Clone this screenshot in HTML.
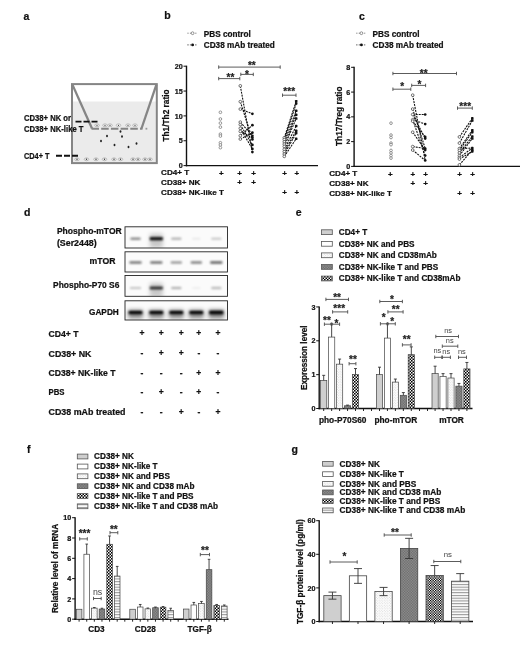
<!DOCTYPE html>
<html><head><meta charset="utf-8"><title>figure</title>
<style>html,body{margin:0;padding:0;background:#fff}svg{display:block;filter:blur(0.35px)}text{font-family:"Liberation Sans",Arial,sans-serif}</style>
</head><body>
<svg width="520" height="647" viewBox="0 0 520 647">
<rect width="520" height="647" fill="#fff"/>
<defs>
<pattern id="pdots" width="2.6" height="2.6" patternUnits="userSpaceOnUse"><rect width="2.6" height="2.6" fill="#fff"/><rect x="0.3" y="0.3" width="0.7" height="0.7" fill="#b4b4b4"/><rect x="1.6" y="1.6" width="0.7" height="0.7" fill="#b4b4b4"/></pattern>
<pattern id="pdense" width="1.6" height="1.6" patternUnits="userSpaceOnUse"><rect width="1.6" height="1.6" fill="#959595"/><rect width="0.8" height="0.8" fill="#666"/><rect x="0.8" y="0.8" width="0.8" height="0.8" fill="#666"/></pattern>
<pattern id="pcheck" width="6.0" height="6.0" patternUnits="userSpaceOnUse"><rect width="6.0" height="6.0" fill="#fff"/><rect x="0.000" y="0.000" width="1.550" height="1.550" fill="#000"/><rect x="0.000" y="3.000" width="1.550" height="1.550" fill="#000"/><rect x="1.500" y="1.500" width="1.550" height="1.550" fill="#000"/><rect x="1.500" y="4.500" width="1.550" height="1.550" fill="#000"/><rect x="3.000" y="0.000" width="1.550" height="1.550" fill="#000"/><rect x="3.000" y="3.000" width="1.550" height="1.550" fill="#000"/><rect x="4.500" y="1.500" width="1.550" height="1.550" fill="#000"/><rect x="4.500" y="4.500" width="1.550" height="1.550" fill="#000"/></pattern>
<pattern id="pcheckg" width="5.0" height="5.0" patternUnits="userSpaceOnUse"><rect width="5.0" height="5.0" fill="#fff"/><rect x="0.000" y="0.000" width="1.300" height="1.300" fill="#000"/><rect x="0.000" y="2.500" width="1.300" height="1.300" fill="#000"/><rect x="1.250" y="1.250" width="1.300" height="1.300" fill="#000"/><rect x="1.250" y="3.750" width="1.300" height="1.300" fill="#000"/><rect x="2.500" y="0.000" width="1.300" height="1.300" fill="#000"/><rect x="2.500" y="2.500" width="1.300" height="1.300" fill="#000"/><rect x="3.750" y="1.250" width="1.300" height="1.300" fill="#000"/><rect x="3.750" y="3.750" width="1.300" height="1.300" fill="#000"/></pattern>
<pattern id="phoriz" width="3" height="2.75" patternUnits="userSpaceOnUse"><rect width="3" height="2.75" fill="#fff"/><rect y="1.2" width="3" height="0.75" fill="#666"/></pattern>
<filter id="b1" x="-50%" y="-200%" width="200%" height="500%"><feGaussianBlur stdDeviation="1.2 0.8"/></filter>
<filter id="b2" x="-50%" y="-200%" width="200%" height="500%"><feGaussianBlur stdDeviation="1.0 0.9"/></filter>
<filter id="b3" x="-50%" y="-200%" width="200%" height="500%"><feGaussianBlur stdDeviation="2 2.2"/></filter>
<filter id="soft"><feGaussianBlur stdDeviation="0.35"/></filter>
</defs>
<text x="23.40" y="20.30" font-size="10.5" font-weight="bold" text-anchor="start" fill="#111" stroke="#111" stroke-width="0.22" >a</text>
<text x="164.30" y="19.00" font-size="10.5" font-weight="bold" text-anchor="start" fill="#111" stroke="#111" stroke-width="0.22" >b</text>
<text x="359.00" y="20.30" font-size="10.5" font-weight="bold" text-anchor="start" fill="#111" stroke="#111" stroke-width="0.22" >c</text>
<text x="24.00" y="216.00" font-size="10.5" font-weight="bold" text-anchor="start" fill="#111" stroke="#111" stroke-width="0.22" >d</text>
<text x="295.80" y="216.40" font-size="10.5" font-weight="bold" text-anchor="start" fill="#111" stroke="#111" stroke-width="0.22" >e</text>
<text x="27.00" y="452.80" font-size="10.5" font-weight="bold" text-anchor="start" fill="#111" stroke="#111" stroke-width="0.22" >f</text>
<text x="291.50" y="452.50" font-size="10.5" font-weight="bold" text-anchor="start" fill="#111" stroke="#111" stroke-width="0.22" >g</text>
<rect x="72.00" y="101.50" width="84.80" height="61.60" fill="#ebebeb" stroke="none" stroke-width="1" />
<polyline points="72.3,84.39999999999999 92,128.5" fill="none" stroke="#858585" stroke-width="2.3"/>
<polyline points="156.5,84.39999999999999 141.5,128.5" fill="none" stroke="#858585" stroke-width="2.3"/>
<line x1="91.50" y1="128.80" x2="142.50" y2="128.80" stroke="#858585" stroke-width="2.1" stroke-dasharray="7.5 2.2"/>
<rect x="145.50" y="127.80" width="1.80" height="1.80" fill="#999" stroke="none" stroke-width="1" />
<rect x="72.00" y="84.10" width="84.80" height="79.00" fill="none" stroke="#858585" stroke-width="2" />
<ellipse cx="97" cy="125.3" rx="2.3" ry="1.4" fill="#f6f6f6" stroke="#888" stroke-width="0.5"/>
<circle cx="97.00" cy="125.30" r="0.6" fill="#333" stroke="none" stroke-width="1"/>
<ellipse cx="105" cy="125.3" rx="2.3" ry="1.4" fill="#f6f6f6" stroke="#888" stroke-width="0.5"/>
<circle cx="105.00" cy="125.30" r="0.6" fill="#333" stroke="none" stroke-width="1"/>
<ellipse cx="110" cy="125.3" rx="2.3" ry="1.4" fill="#f6f6f6" stroke="#888" stroke-width="0.5"/>
<circle cx="110.00" cy="125.30" r="0.6" fill="#333" stroke="none" stroke-width="1"/>
<ellipse cx="118.5" cy="125.3" rx="2.3" ry="1.4" fill="#f6f6f6" stroke="#888" stroke-width="0.5"/>
<circle cx="118.50" cy="125.30" r="0.6" fill="#333" stroke="none" stroke-width="1"/>
<ellipse cx="128" cy="125.3" rx="2.3" ry="1.4" fill="#f6f6f6" stroke="#888" stroke-width="0.5"/>
<circle cx="128.00" cy="125.30" r="0.6" fill="#333" stroke="none" stroke-width="1"/>
<ellipse cx="135" cy="125.3" rx="2.3" ry="1.4" fill="#f6f6f6" stroke="#888" stroke-width="0.5"/>
<circle cx="135.00" cy="125.30" r="0.6" fill="#333" stroke="none" stroke-width="1"/>
<ellipse cx="77" cy="159.3" rx="2.3" ry="1.4" fill="#f6f6f6" stroke="#888" stroke-width="0.5"/>
<circle cx="77.00" cy="159.30" r="0.7" fill="#333" stroke="none" stroke-width="1"/>
<ellipse cx="86.5" cy="159.3" rx="2.3" ry="1.4" fill="#f6f6f6" stroke="#888" stroke-width="0.5"/>
<circle cx="86.50" cy="159.30" r="0.7" fill="#333" stroke="none" stroke-width="1"/>
<ellipse cx="96" cy="159.3" rx="2.3" ry="1.4" fill="#f6f6f6" stroke="#888" stroke-width="0.5"/>
<circle cx="96.00" cy="159.30" r="0.7" fill="#333" stroke="none" stroke-width="1"/>
<ellipse cx="104.5" cy="159.3" rx="2.3" ry="1.4" fill="#f6f6f6" stroke="#888" stroke-width="0.5"/>
<circle cx="104.50" cy="159.30" r="0.7" fill="#333" stroke="none" stroke-width="1"/>
<ellipse cx="114" cy="159.3" rx="2.3" ry="1.4" fill="#f6f6f6" stroke="#888" stroke-width="0.5"/>
<circle cx="114.00" cy="159.30" r="0.7" fill="#333" stroke="none" stroke-width="1"/>
<ellipse cx="120.5" cy="159.3" rx="2.3" ry="1.4" fill="#f6f6f6" stroke="#888" stroke-width="0.5"/>
<circle cx="120.50" cy="159.30" r="0.7" fill="#333" stroke="none" stroke-width="1"/>
<ellipse cx="133" cy="159.3" rx="2.3" ry="1.4" fill="#f6f6f6" stroke="#888" stroke-width="0.5"/>
<circle cx="133.00" cy="159.30" r="0.7" fill="#333" stroke="none" stroke-width="1"/>
<ellipse cx="138" cy="159.3" rx="2.3" ry="1.4" fill="#f6f6f6" stroke="#888" stroke-width="0.5"/>
<circle cx="138.00" cy="159.30" r="0.7" fill="#333" stroke="none" stroke-width="1"/>
<ellipse cx="145" cy="159.3" rx="2.3" ry="1.4" fill="#f6f6f6" stroke="#888" stroke-width="0.5"/>
<circle cx="145.00" cy="159.30" r="0.7" fill="#333" stroke="none" stroke-width="1"/>
<ellipse cx="150" cy="159.3" rx="2.3" ry="1.4" fill="#f6f6f6" stroke="#888" stroke-width="0.5"/>
<circle cx="150.00" cy="159.30" r="0.7" fill="#333" stroke="none" stroke-width="1"/>
<ellipse cx="107" cy="136" rx="0.95" ry="1.25" fill="#222"/>
<ellipse cx="101" cy="141" rx="0.95" ry="1.25" fill="#222"/>
<ellipse cx="114.5" cy="145" rx="0.95" ry="1.25" fill="#222"/>
<ellipse cx="120.5" cy="131.5" rx="0.95" ry="1.25" fill="#222"/>
<ellipse cx="122" cy="136.5" rx="0.95" ry="1.25" fill="#222"/>
<ellipse cx="128.5" cy="147" rx="0.95" ry="1.25" fill="#222"/>
<ellipse cx="136.5" cy="143.5" rx="0.95" ry="1.25" fill="#222"/>
<line x1="75.50" y1="121.60" x2="98.00" y2="121.60" stroke="#111" stroke-width="1.9" stroke-dasharray="6 2"/>
<line x1="56.00" y1="155.80" x2="79.00" y2="155.80" stroke="#111" stroke-width="1.9" stroke-dasharray="6 2"/>
<text x="24.00" y="120.50" font-size="8.3" font-weight="bold" text-anchor="start" fill="#111" textLength="47.00" lengthAdjust="spacingAndGlyphs" stroke="#111" stroke-width="0.22" >CD38+ NK or</text>
<text x="24.00" y="132.00" font-size="8.3" font-weight="bold" text-anchor="start" fill="#111" textLength="59.50" lengthAdjust="spacingAndGlyphs" stroke="#111" stroke-width="0.22" >CD38+ NK-like T</text>
<text x="24.00" y="159.00" font-size="8.3" font-weight="bold" text-anchor="start" fill="#111" textLength="25.50" lengthAdjust="spacingAndGlyphs" stroke="#111" stroke-width="0.22" >CD4+ T</text>
<line x1="186.50" y1="65.70" x2="186.50" y2="166.30" stroke="#111" stroke-width="1.4" />
<line x1="185.80" y1="165.60" x2="318.00" y2="165.60" stroke="#111" stroke-width="1.4" />
<line x1="183.50" y1="165.60" x2="186.50" y2="165.60" stroke="#111" stroke-width="1" />
<text x="182.70" y="168.20" font-size="7.2" font-weight="bold" text-anchor="end" fill="#111" stroke="#111" stroke-width="0.22" >0</text>
<line x1="183.50" y1="140.75" x2="186.50" y2="140.75" stroke="#111" stroke-width="1" />
<text x="182.70" y="143.35" font-size="7.2" font-weight="bold" text-anchor="end" fill="#111" stroke="#111" stroke-width="0.22" >5</text>
<line x1="183.50" y1="115.90" x2="186.50" y2="115.90" stroke="#111" stroke-width="1" />
<text x="182.70" y="118.50" font-size="7.2" font-weight="bold" text-anchor="end" fill="#111" stroke="#111" stroke-width="0.22" >10</text>
<line x1="183.50" y1="91.05" x2="186.50" y2="91.05" stroke="#111" stroke-width="1" />
<text x="182.70" y="93.65" font-size="7.2" font-weight="bold" text-anchor="end" fill="#111" stroke="#111" stroke-width="0.22" >15</text>
<line x1="183.50" y1="66.20" x2="186.50" y2="66.20" stroke="#111" stroke-width="1" />
<text x="182.70" y="68.80" font-size="7.2" font-weight="bold" text-anchor="end" fill="#111" stroke="#111" stroke-width="0.22" >20</text>
<text x="168.60" y="115.50" font-size="8.3" font-weight="bold" text-anchor="middle" fill="#111" transform="rotate(-90 168.60 115.50)" stroke="#111" stroke-width="0.22" >Th1/Th2 ratio</text>
<line x1="240.30" y1="85.84" x2="252.40" y2="152.07" stroke="#111" stroke-width="1.1" stroke-dasharray="2 1"/>
<line x1="240.30" y1="101.67" x2="252.40" y2="139.45" stroke="#111" stroke-width="1.1" stroke-dasharray="2 1"/>
<line x1="240.30" y1="109.09" x2="252.40" y2="113.80" stroke="#111" stroke-width="1.1" stroke-dasharray="2 1"/>
<line x1="240.30" y1="122.11" x2="252.40" y2="135.74" stroke="#111" stroke-width="1.1" stroke-dasharray="2 1"/>
<line x1="240.30" y1="124.62" x2="252.40" y2="144.96" stroke="#111" stroke-width="1.1" stroke-dasharray="2 1"/>
<line x1="240.30" y1="128.32" x2="252.40" y2="148.97" stroke="#111" stroke-width="1.1" stroke-dasharray="2 1"/>
<line x1="240.30" y1="131.43" x2="252.40" y2="137.54" stroke="#111" stroke-width="1.1" stroke-dasharray="2 1"/>
<line x1="240.30" y1="135.74" x2="252.40" y2="125.22" stroke="#111" stroke-width="1.1" stroke-dasharray="2 1"/>
<line x1="240.30" y1="139.05" x2="252.40" y2="132.63" stroke="#111" stroke-width="1.1" stroke-dasharray="2 1"/>
<line x1="284.30" y1="137.74" x2="296.20" y2="101.17" stroke="#111" stroke-width="1.1" stroke-dasharray="2 1"/>
<line x1="284.30" y1="139.55" x2="296.20" y2="103.47" stroke="#111" stroke-width="1.1" stroke-dasharray="2 1"/>
<line x1="284.30" y1="141.85" x2="296.20" y2="110.79" stroke="#111" stroke-width="1.1" stroke-dasharray="2 1"/>
<line x1="284.30" y1="144.16" x2="296.20" y2="114.80" stroke="#111" stroke-width="1.1" stroke-dasharray="2 1"/>
<line x1="284.30" y1="146.46" x2="296.20" y2="118.61" stroke="#111" stroke-width="1.1" stroke-dasharray="2 1"/>
<line x1="284.30" y1="149.37" x2="296.20" y2="126.12" stroke="#111" stroke-width="1.1" stroke-dasharray="2 1"/>
<line x1="284.30" y1="151.67" x2="296.20" y2="130.83" stroke="#111" stroke-width="1.1" stroke-dasharray="2 1"/>
<line x1="284.30" y1="154.08" x2="296.20" y2="133.13" stroke="#111" stroke-width="1.1" stroke-dasharray="2 1"/>
<line x1="284.30" y1="156.38" x2="296.20" y2="138.75" stroke="#111" stroke-width="1.1" stroke-dasharray="2 1"/>
<circle cx="220.40" cy="112.29" r="1.35" fill="#fff" stroke="#777" stroke-width="0.75"/>
<circle cx="220.40" cy="119.01" r="1.35" fill="#fff" stroke="#777" stroke-width="0.75"/>
<circle cx="220.40" cy="123.11" r="1.35" fill="#fff" stroke="#777" stroke-width="0.75"/>
<circle cx="220.40" cy="127.12" r="1.35" fill="#fff" stroke="#777" stroke-width="0.75"/>
<circle cx="220.40" cy="134.14" r="1.35" fill="#fff" stroke="#777" stroke-width="0.75"/>
<circle cx="220.40" cy="136.04" r="1.35" fill="#fff" stroke="#777" stroke-width="0.75"/>
<circle cx="220.40" cy="142.75" r="1.35" fill="#fff" stroke="#777" stroke-width="0.75"/>
<circle cx="220.40" cy="144.96" r="1.35" fill="#fff" stroke="#777" stroke-width="0.75"/>
<circle cx="220.40" cy="147.66" r="1.35" fill="#fff" stroke="#777" stroke-width="0.75"/>
<circle cx="240.30" cy="85.84" r="1.35" fill="#fff" stroke="#444" stroke-width="0.75"/>
<circle cx="240.30" cy="101.67" r="1.35" fill="#fff" stroke="#444" stroke-width="0.75"/>
<circle cx="240.30" cy="109.09" r="1.35" fill="#fff" stroke="#444" stroke-width="0.75"/>
<circle cx="240.30" cy="122.11" r="1.35" fill="#fff" stroke="#444" stroke-width="0.75"/>
<circle cx="240.30" cy="124.62" r="1.35" fill="#fff" stroke="#444" stroke-width="0.75"/>
<circle cx="240.30" cy="128.32" r="1.35" fill="#fff" stroke="#444" stroke-width="0.75"/>
<circle cx="240.30" cy="131.43" r="1.35" fill="#fff" stroke="#444" stroke-width="0.75"/>
<circle cx="240.30" cy="135.74" r="1.35" fill="#fff" stroke="#444" stroke-width="0.75"/>
<circle cx="240.30" cy="139.05" r="1.35" fill="#fff" stroke="#444" stroke-width="0.75"/>
<circle cx="252.40" cy="113.80" r="1.35" fill="#111" stroke="none" stroke-width="1"/>
<circle cx="252.40" cy="125.22" r="1.35" fill="#111" stroke="none" stroke-width="1"/>
<circle cx="252.40" cy="132.63" r="1.35" fill="#111" stroke="none" stroke-width="1"/>
<circle cx="252.40" cy="135.74" r="1.35" fill="#111" stroke="none" stroke-width="1"/>
<circle cx="252.40" cy="137.54" r="1.35" fill="#111" stroke="none" stroke-width="1"/>
<circle cx="252.40" cy="139.45" r="1.35" fill="#111" stroke="none" stroke-width="1"/>
<circle cx="252.40" cy="144.96" r="1.35" fill="#111" stroke="none" stroke-width="1"/>
<circle cx="252.40" cy="148.97" r="1.35" fill="#111" stroke="none" stroke-width="1"/>
<circle cx="252.40" cy="152.07" r="1.35" fill="#111" stroke="none" stroke-width="1"/>
<circle cx="284.30" cy="137.74" r="1.35" fill="#fff" stroke="#444" stroke-width="0.75"/>
<circle cx="284.30" cy="139.55" r="1.35" fill="#fff" stroke="#444" stroke-width="0.75"/>
<circle cx="284.30" cy="141.85" r="1.35" fill="#fff" stroke="#444" stroke-width="0.75"/>
<circle cx="284.30" cy="144.16" r="1.35" fill="#fff" stroke="#444" stroke-width="0.75"/>
<circle cx="284.30" cy="146.46" r="1.35" fill="#fff" stroke="#444" stroke-width="0.75"/>
<circle cx="284.30" cy="149.37" r="1.35" fill="#fff" stroke="#444" stroke-width="0.75"/>
<circle cx="284.30" cy="151.67" r="1.35" fill="#fff" stroke="#444" stroke-width="0.75"/>
<circle cx="284.30" cy="154.08" r="1.35" fill="#fff" stroke="#444" stroke-width="0.75"/>
<circle cx="284.30" cy="156.38" r="1.35" fill="#fff" stroke="#444" stroke-width="0.75"/>
<rect x="294.95" y="99.92" width="2.50" height="2.50" fill="#111" stroke="none" stroke-width="1" rx="0.6"/>
<rect x="294.95" y="102.22" width="2.50" height="2.50" fill="#111" stroke="none" stroke-width="1" rx="0.6"/>
<rect x="294.95" y="109.54" width="2.50" height="2.50" fill="#111" stroke="none" stroke-width="1" rx="0.6"/>
<rect x="294.95" y="113.55" width="2.50" height="2.50" fill="#111" stroke="none" stroke-width="1" rx="0.6"/>
<rect x="294.95" y="117.36" width="2.50" height="2.50" fill="#111" stroke="none" stroke-width="1" rx="0.6"/>
<rect x="294.95" y="124.87" width="2.50" height="2.50" fill="#111" stroke="none" stroke-width="1" rx="0.6"/>
<rect x="294.95" y="129.58" width="2.50" height="2.50" fill="#111" stroke="none" stroke-width="1" rx="0.6"/>
<rect x="294.95" y="131.88" width="2.50" height="2.50" fill="#111" stroke="none" stroke-width="1" rx="0.6"/>
<rect x="294.95" y="137.50" width="2.50" height="2.50" fill="#111" stroke="none" stroke-width="1" rx="0.6"/>
<line x1="218.70" y1="67.10" x2="280.20" y2="67.10" stroke="#4a4a4a" stroke-width="0.9" />
<line x1="218.70" y1="65.40" x2="218.70" y2="68.80" stroke="#4a4a4a" stroke-width="0.9" />
<line x1="280.20" y1="65.40" x2="280.20" y2="68.80" stroke="#4a4a4a" stroke-width="0.9" />
<text x="251.80" y="69.10" font-size="10" font-weight="bold" text-anchor="middle" fill="#222" stroke="#222" stroke-width="0.22" >**</text>
<line x1="218.70" y1="78.60" x2="239.80" y2="78.60" stroke="#4a4a4a" stroke-width="0.9" />
<line x1="218.70" y1="76.90" x2="218.70" y2="80.30" stroke="#4a4a4a" stroke-width="0.9" />
<line x1="239.80" y1="76.90" x2="239.80" y2="80.30" stroke="#4a4a4a" stroke-width="0.9" />
<text x="230.50" y="80.60" font-size="10" font-weight="bold" text-anchor="middle" fill="#222" stroke="#222" stroke-width="0.22" >**</text>
<line x1="240.80" y1="74.40" x2="253.30" y2="74.40" stroke="#4a4a4a" stroke-width="0.9" />
<line x1="240.80" y1="72.70" x2="240.80" y2="76.10" stroke="#4a4a4a" stroke-width="0.9" />
<line x1="253.30" y1="72.70" x2="253.30" y2="76.10" stroke="#4a4a4a" stroke-width="0.9" />
<text x="246.90" y="78.10" font-size="10" font-weight="bold" text-anchor="middle" fill="#222" stroke="#222" stroke-width="0.22" >*</text>
<line x1="282.50" y1="95.20" x2="296.00" y2="95.20" stroke="#4a4a4a" stroke-width="0.9" />
<line x1="282.50" y1="93.50" x2="282.50" y2="96.90" stroke="#4a4a4a" stroke-width="0.9" />
<line x1="296.00" y1="93.50" x2="296.00" y2="96.90" stroke="#4a4a4a" stroke-width="0.9" />
<text x="289.20" y="95.20" font-size="10" font-weight="bold" text-anchor="middle" fill="#222" stroke="#222" stroke-width="0.22" >***</text>
<text x="161.10" y="175.30" font-size="8.1" font-weight="bold" text-anchor="start" fill="#111" stroke="#111" stroke-width="0.22" >CD4+ T</text>
<text x="161.10" y="185.20" font-size="8.1" font-weight="bold" text-anchor="start" fill="#111" stroke="#111" stroke-width="0.22" >CD38+ NK</text>
<text x="161.10" y="194.70" font-size="8.1" font-weight="bold" text-anchor="start" fill="#111" stroke="#111" stroke-width="0.22" >CD38+ NK-like T</text>
<text x="221.30" y="175.70" font-size="8" font-weight="bold" text-anchor="middle" fill="#111" stroke="#111" stroke-width="0.22" >+</text>
<text x="239.50" y="175.70" font-size="8" font-weight="bold" text-anchor="middle" fill="#111" stroke="#111" stroke-width="0.22" >+</text>
<text x="253.60" y="175.70" font-size="8" font-weight="bold" text-anchor="middle" fill="#111" stroke="#111" stroke-width="0.22" >+</text>
<text x="284.50" y="175.70" font-size="8" font-weight="bold" text-anchor="middle" fill="#111" stroke="#111" stroke-width="0.22" >+</text>
<text x="296.90" y="175.70" font-size="8" font-weight="bold" text-anchor="middle" fill="#111" stroke="#111" stroke-width="0.22" >+</text>
<text x="239.50" y="185.40" font-size="8" font-weight="bold" text-anchor="middle" fill="#111" stroke="#111" stroke-width="0.22" >+</text>
<text x="253.60" y="185.40" font-size="8" font-weight="bold" text-anchor="middle" fill="#111" stroke="#111" stroke-width="0.22" >+</text>
<text x="284.50" y="195.00" font-size="8" font-weight="bold" text-anchor="middle" fill="#111" stroke="#111" stroke-width="0.22" >+</text>
<text x="296.90" y="195.00" font-size="8" font-weight="bold" text-anchor="middle" fill="#111" stroke="#111" stroke-width="0.22" >+</text>
<line x1="187.30" y1="33.20" x2="196.80" y2="33.20" stroke="#777" stroke-width="0.8" stroke-dasharray="1.4 1.2"/>
<circle cx="192.60" cy="33.20" r="1.4" fill="#fff" stroke="#666" stroke-width="0.7"/>
<text x="203.80" y="36.50" font-size="8.2" font-weight="bold" text-anchor="start" fill="#111" stroke="#111" stroke-width="0.22" >PBS control</text>
<line x1="187.30" y1="44.90" x2="196.80" y2="44.90" stroke="#333" stroke-width="0.8" stroke-dasharray="1.4 1.2"/>
<circle cx="192.60" cy="44.90" r="1.4" fill="#111" stroke="none" stroke-width="1"/>
<text x="203.80" y="48.30" font-size="8.2" font-weight="bold" text-anchor="start" fill="#111" stroke="#111" stroke-width="0.22" >CD38 mAb treated</text>
<line x1="354.10" y1="66.80" x2="354.10" y2="167.10" stroke="#111" stroke-width="1.4" />
<line x1="353.40" y1="166.40" x2="520.00" y2="166.40" stroke="#111" stroke-width="1.4" />
<line x1="351.10" y1="166.40" x2="354.10" y2="166.40" stroke="#111" stroke-width="1" />
<text x="350.30" y="169.00" font-size="7.2" font-weight="bold" text-anchor="end" fill="#111" stroke="#111" stroke-width="0.22" >0</text>
<line x1="351.10" y1="141.62" x2="354.10" y2="141.62" stroke="#111" stroke-width="1" />
<text x="350.30" y="144.22" font-size="7.2" font-weight="bold" text-anchor="end" fill="#111" stroke="#111" stroke-width="0.22" >2</text>
<line x1="351.10" y1="116.85" x2="354.10" y2="116.85" stroke="#111" stroke-width="1" />
<text x="350.30" y="119.45" font-size="7.2" font-weight="bold" text-anchor="end" fill="#111" stroke="#111" stroke-width="0.22" >4</text>
<line x1="351.10" y1="92.08" x2="354.10" y2="92.08" stroke="#111" stroke-width="1" />
<text x="350.30" y="94.67" font-size="7.2" font-weight="bold" text-anchor="end" fill="#111" stroke="#111" stroke-width="0.22" >6</text>
<line x1="351.10" y1="67.30" x2="354.10" y2="67.30" stroke="#111" stroke-width="1" />
<text x="350.30" y="69.90" font-size="7.2" font-weight="bold" text-anchor="end" fill="#111" stroke="#111" stroke-width="0.22" >8</text>
<text x="341.80" y="116.25" font-size="8.3" font-weight="bold" text-anchor="middle" fill="#111" transform="rotate(-90 341.80 116.25)" stroke="#111" stroke-width="0.22" >Th17/Treg ratio</text>
<line x1="412.70" y1="95.17" x2="425.20" y2="160.45" stroke="#111" stroke-width="1.1" stroke-dasharray="2 1"/>
<line x1="412.70" y1="109.05" x2="425.20" y2="148.56" stroke="#111" stroke-width="1.1" stroke-dasharray="2 1"/>
<line x1="412.70" y1="114.50" x2="425.20" y2="114.50" stroke="#111" stroke-width="1.1" stroke-dasharray="2 1"/>
<line x1="412.70" y1="119.70" x2="425.20" y2="124.03" stroke="#111" stroke-width="1.1" stroke-dasharray="2 1"/>
<line x1="412.70" y1="121.19" x2="425.20" y2="136.92" stroke="#111" stroke-width="1.1" stroke-dasharray="2 1"/>
<line x1="412.70" y1="119.70" x2="425.20" y2="155.62" stroke="#111" stroke-width="1.1" stroke-dasharray="2 1"/>
<line x1="412.70" y1="132.21" x2="425.20" y2="150.05" stroke="#111" stroke-width="1.1" stroke-dasharray="2 1"/>
<line x1="412.70" y1="146.58" x2="425.20" y2="148.56" stroke="#111" stroke-width="1.1" stroke-dasharray="2 1"/>
<line x1="412.70" y1="150.05" x2="425.20" y2="160.45" stroke="#111" stroke-width="1.1" stroke-dasharray="2 1"/>
<line x1="412.70" y1="114.50" x2="425.20" y2="138.53" stroke="#111" stroke-width="1.1" stroke-dasharray="2 1"/>
<line x1="459.40" y1="136.92" x2="472.30" y2="118.34" stroke="#111" stroke-width="1.1" stroke-dasharray="2 1"/>
<line x1="459.40" y1="143.11" x2="472.30" y2="120.57" stroke="#111" stroke-width="1.1" stroke-dasharray="2 1"/>
<line x1="459.40" y1="148.56" x2="472.30" y2="130.23" stroke="#111" stroke-width="1.1" stroke-dasharray="2 1"/>
<line x1="459.40" y1="150.42" x2="472.30" y2="132.21" stroke="#111" stroke-width="1.1" stroke-dasharray="2 1"/>
<line x1="459.40" y1="152.90" x2="472.30" y2="136.42" stroke="#111" stroke-width="1.1" stroke-dasharray="2 1"/>
<line x1="459.40" y1="155.62" x2="472.30" y2="138.53" stroke="#111" stroke-width="1.1" stroke-dasharray="2 1"/>
<line x1="459.40" y1="157.60" x2="472.30" y2="148.07" stroke="#111" stroke-width="1.1" stroke-dasharray="2 1"/>
<line x1="459.40" y1="148.56" x2="472.30" y2="148.07" stroke="#111" stroke-width="1.1" stroke-dasharray="2 1"/>
<line x1="459.40" y1="159.09" x2="472.30" y2="151.41" stroke="#111" stroke-width="1.1" stroke-dasharray="2 1"/>
<line x1="459.40" y1="164.91" x2="472.30" y2="150.05" stroke="#111" stroke-width="1.1" stroke-dasharray="2 1"/>
<circle cx="391.00" cy="123.17" r="1.35" fill="#fff" stroke="#777" stroke-width="0.75"/>
<circle cx="391.00" cy="135.06" r="1.35" fill="#fff" stroke="#777" stroke-width="0.75"/>
<circle cx="391.00" cy="137.54" r="1.35" fill="#fff" stroke="#777" stroke-width="0.75"/>
<circle cx="391.00" cy="143.11" r="1.35" fill="#fff" stroke="#777" stroke-width="0.75"/>
<circle cx="391.00" cy="144.72" r="1.35" fill="#fff" stroke="#777" stroke-width="0.75"/>
<circle cx="391.00" cy="150.42" r="1.35" fill="#fff" stroke="#777" stroke-width="0.75"/>
<circle cx="391.00" cy="152.90" r="1.35" fill="#fff" stroke="#777" stroke-width="0.75"/>
<circle cx="391.00" cy="155.62" r="1.35" fill="#fff" stroke="#777" stroke-width="0.75"/>
<circle cx="391.00" cy="158.10" r="1.35" fill="#fff" stroke="#777" stroke-width="0.75"/>
<circle cx="412.70" cy="95.17" r="1.35" fill="#fff" stroke="#444" stroke-width="0.75"/>
<circle cx="412.70" cy="109.05" r="1.35" fill="#fff" stroke="#444" stroke-width="0.75"/>
<circle cx="412.70" cy="114.50" r="1.35" fill="#fff" stroke="#444" stroke-width="0.75"/>
<circle cx="412.70" cy="119.70" r="1.35" fill="#fff" stroke="#444" stroke-width="0.75"/>
<circle cx="412.70" cy="121.19" r="1.35" fill="#fff" stroke="#444" stroke-width="0.75"/>
<circle cx="412.70" cy="132.21" r="1.35" fill="#fff" stroke="#444" stroke-width="0.75"/>
<circle cx="412.70" cy="146.58" r="1.35" fill="#fff" stroke="#444" stroke-width="0.75"/>
<circle cx="412.70" cy="150.05" r="1.35" fill="#fff" stroke="#444" stroke-width="0.75"/>
<circle cx="425.20" cy="114.50" r="1.35" fill="#111" stroke="none" stroke-width="1"/>
<circle cx="425.20" cy="124.03" r="1.35" fill="#111" stroke="none" stroke-width="1"/>
<circle cx="425.20" cy="136.92" r="1.35" fill="#111" stroke="none" stroke-width="1"/>
<circle cx="425.20" cy="138.53" r="1.35" fill="#111" stroke="none" stroke-width="1"/>
<circle cx="425.20" cy="148.56" r="1.35" fill="#111" stroke="none" stroke-width="1"/>
<circle cx="425.20" cy="150.05" r="1.35" fill="#111" stroke="none" stroke-width="1"/>
<circle cx="425.20" cy="155.62" r="1.35" fill="#111" stroke="none" stroke-width="1"/>
<circle cx="425.20" cy="160.45" r="1.35" fill="#111" stroke="none" stroke-width="1"/>
<circle cx="459.40" cy="136.92" r="1.35" fill="#fff" stroke="#444" stroke-width="0.75"/>
<circle cx="459.40" cy="143.11" r="1.35" fill="#fff" stroke="#444" stroke-width="0.75"/>
<circle cx="459.40" cy="148.56" r="1.35" fill="#fff" stroke="#444" stroke-width="0.75"/>
<circle cx="459.40" cy="150.42" r="1.35" fill="#fff" stroke="#444" stroke-width="0.75"/>
<circle cx="459.40" cy="152.90" r="1.35" fill="#fff" stroke="#444" stroke-width="0.75"/>
<circle cx="459.40" cy="155.62" r="1.35" fill="#fff" stroke="#444" stroke-width="0.75"/>
<circle cx="459.40" cy="157.60" r="1.35" fill="#fff" stroke="#444" stroke-width="0.75"/>
<circle cx="459.40" cy="159.09" r="1.35" fill="#fff" stroke="#444" stroke-width="0.75"/>
<circle cx="459.40" cy="164.91" r="1.35" fill="#fff" stroke="#444" stroke-width="0.75"/>
<rect x="471.05" y="117.09" width="2.50" height="2.50" fill="#111" stroke="none" stroke-width="1" rx="0.6"/>
<rect x="471.05" y="119.32" width="2.50" height="2.50" fill="#111" stroke="none" stroke-width="1" rx="0.6"/>
<rect x="471.05" y="128.98" width="2.50" height="2.50" fill="#111" stroke="none" stroke-width="1" rx="0.6"/>
<rect x="471.05" y="130.96" width="2.50" height="2.50" fill="#111" stroke="none" stroke-width="1" rx="0.6"/>
<rect x="471.05" y="135.17" width="2.50" height="2.50" fill="#111" stroke="none" stroke-width="1" rx="0.6"/>
<rect x="471.05" y="137.28" width="2.50" height="2.50" fill="#111" stroke="none" stroke-width="1" rx="0.6"/>
<rect x="471.05" y="146.82" width="2.50" height="2.50" fill="#111" stroke="none" stroke-width="1" rx="0.6"/>
<rect x="471.05" y="148.80" width="2.50" height="2.50" fill="#111" stroke="none" stroke-width="1" rx="0.6"/>
<rect x="471.05" y="150.16" width="2.50" height="2.50" fill="#111" stroke="none" stroke-width="1" rx="0.6"/>
<line x1="392.90" y1="73.50" x2="456.50" y2="73.50" stroke="#4a4a4a" stroke-width="0.9" />
<line x1="392.90" y1="71.80" x2="392.90" y2="75.20" stroke="#4a4a4a" stroke-width="0.9" />
<line x1="456.50" y1="71.80" x2="456.50" y2="75.20" stroke="#4a4a4a" stroke-width="0.9" />
<text x="423.70" y="76.60" font-size="10" font-weight="bold" text-anchor="middle" fill="#222" stroke="#222" stroke-width="0.22" >**</text>
<line x1="392.90" y1="89.20" x2="410.80" y2="89.20" stroke="#4a4a4a" stroke-width="0.9" />
<line x1="392.90" y1="87.50" x2="392.90" y2="90.90" stroke="#4a4a4a" stroke-width="0.9" />
<line x1="410.80" y1="87.50" x2="410.80" y2="90.90" stroke="#4a4a4a" stroke-width="0.9" />
<text x="402.10" y="90.40" font-size="10" font-weight="bold" text-anchor="middle" fill="#222" stroke="#222" stroke-width="0.22" >*</text>
<line x1="411.70" y1="85.40" x2="425.60" y2="85.40" stroke="#4a4a4a" stroke-width="0.9" />
<line x1="411.70" y1="83.70" x2="411.70" y2="87.10" stroke="#4a4a4a" stroke-width="0.9" />
<line x1="425.60" y1="83.70" x2="425.60" y2="87.10" stroke="#4a4a4a" stroke-width="0.9" />
<text x="419.40" y="87.90" font-size="10" font-weight="bold" text-anchor="middle" fill="#222" stroke="#222" stroke-width="0.22" >*</text>
<line x1="457.50" y1="108.10" x2="472.30" y2="108.10" stroke="#4a4a4a" stroke-width="0.9" />
<line x1="457.50" y1="106.40" x2="457.50" y2="109.80" stroke="#4a4a4a" stroke-width="0.9" />
<line x1="472.30" y1="106.40" x2="472.30" y2="109.80" stroke="#4a4a4a" stroke-width="0.9" />
<text x="465.20" y="109.90" font-size="10" font-weight="bold" text-anchor="middle" fill="#222" stroke="#222" stroke-width="0.22" >***</text>
<text x="329.20" y="176.10" font-size="8.1" font-weight="bold" text-anchor="start" fill="#111" stroke="#111" stroke-width="0.22" >CD4+ T</text>
<text x="329.20" y="186.00" font-size="8.1" font-weight="bold" text-anchor="start" fill="#111" stroke="#111" stroke-width="0.22" >CD38+ NK</text>
<text x="329.20" y="195.50" font-size="8.1" font-weight="bold" text-anchor="start" fill="#111" stroke="#111" stroke-width="0.22" >CD38+ NK-like T</text>
<text x="390.30" y="176.50" font-size="8" font-weight="bold" text-anchor="middle" fill="#111" stroke="#111" stroke-width="0.22" >+</text>
<text x="412.80" y="176.50" font-size="8" font-weight="bold" text-anchor="middle" fill="#111" stroke="#111" stroke-width="0.22" >+</text>
<text x="425.50" y="176.50" font-size="8" font-weight="bold" text-anchor="middle" fill="#111" stroke="#111" stroke-width="0.22" >+</text>
<text x="459.60" y="176.50" font-size="8" font-weight="bold" text-anchor="middle" fill="#111" stroke="#111" stroke-width="0.22" >+</text>
<text x="472.50" y="176.50" font-size="8" font-weight="bold" text-anchor="middle" fill="#111" stroke="#111" stroke-width="0.22" >+</text>
<text x="412.80" y="186.20" font-size="8" font-weight="bold" text-anchor="middle" fill="#111" stroke="#111" stroke-width="0.22" >+</text>
<text x="425.50" y="186.20" font-size="8" font-weight="bold" text-anchor="middle" fill="#111" stroke="#111" stroke-width="0.22" >+</text>
<text x="459.60" y="195.80" font-size="8" font-weight="bold" text-anchor="middle" fill="#111" stroke="#111" stroke-width="0.22" >+</text>
<text x="472.50" y="195.80" font-size="8" font-weight="bold" text-anchor="middle" fill="#111" stroke="#111" stroke-width="0.22" >+</text>
<line x1="356.10" y1="33.20" x2="365.60" y2="33.20" stroke="#777" stroke-width="0.8" stroke-dasharray="1.4 1.2"/>
<circle cx="361.40" cy="33.20" r="1.4" fill="#fff" stroke="#666" stroke-width="0.7"/>
<text x="372.60" y="36.50" font-size="8.2" font-weight="bold" text-anchor="start" fill="#111" stroke="#111" stroke-width="0.22" >PBS control</text>
<line x1="356.10" y1="44.90" x2="365.60" y2="44.90" stroke="#333" stroke-width="0.8" stroke-dasharray="1.4 1.2"/>
<circle cx="361.40" cy="44.90" r="1.4" fill="#111" stroke="none" stroke-width="1"/>
<text x="372.60" y="48.30" font-size="8.2" font-weight="bold" text-anchor="start" fill="#111" stroke="#111" stroke-width="0.22" >CD38 mAb treated</text>
<clipPath id="cp0"><rect x="125" y="226.8" width="102.5" height="21.19999999999999"/></clipPath>
<rect x="125.00" y="226.80" width="102.50" height="21.20" fill="#fbfbfb" stroke="none" stroke-width="1" />
<g clip-path="url(#cp0)">
<rect x="130.50" y="237.60" width="10.00" height="2.20" fill="#000" stroke="none" stroke-width="1" opacity="0.5" filter="url(#b1)"/>
<rect x="149.80" y="233.70" width="13.00" height="14.00" fill="#000" stroke="none" stroke-width="1" opacity="0.2" filter="url(#b3)"/>
<rect x="149.80" y="237.10" width="13.00" height="3.20" fill="#000" stroke="none" stroke-width="1" opacity="0.95" filter="url(#b1)"/>
<rect x="171.30" y="237.60" width="10.00" height="2.20" fill="#000" stroke="none" stroke-width="1" opacity="0.3" filter="url(#b1)"/>
<rect x="192.30" y="237.70" width="8.00" height="2.00" fill="#000" stroke="none" stroke-width="1" opacity="0.07" filter="url(#b1)"/>
<rect x="211.30" y="237.70" width="10.00" height="2.00" fill="#000" stroke="none" stroke-width="1" opacity="0.22" filter="url(#b1)"/>
</g>
<rect x="125.00" y="226.80" width="102.50" height="21.20" fill="none" stroke="#222" stroke-width="0.9" />
<clipPath id="cp1"><rect x="125" y="251.8" width="102.5" height="20.19999999999999"/></clipPath>
<rect x="125.00" y="251.80" width="102.50" height="20.20" fill="#fbfbfb" stroke="none" stroke-width="1" />
<g clip-path="url(#cp1)">
<rect x="129.50" y="261.40" width="12.00" height="2.20" fill="#000" stroke="none" stroke-width="1" opacity="0.6" filter="url(#b1)"/>
<rect x="150.30" y="261.40" width="12.00" height="2.20" fill="#000" stroke="none" stroke-width="1" opacity="0.62" filter="url(#b1)"/>
<rect x="170.80" y="261.50" width="11.00" height="2.00" fill="#000" stroke="none" stroke-width="1" opacity="0.48" filter="url(#b1)"/>
<rect x="190.80" y="261.40" width="11.00" height="2.20" fill="#000" stroke="none" stroke-width="1" opacity="0.55" filter="url(#b1)"/>
<rect x="210.30" y="261.30" width="12.00" height="2.40" fill="#000" stroke="none" stroke-width="1" opacity="0.65" filter="url(#b1)"/>
</g>
<rect x="125.00" y="251.80" width="102.50" height="20.20" fill="none" stroke="#222" stroke-width="0.9" />
<clipPath id="cp2"><rect x="125" y="275.5" width="102.5" height="20.80000000000001"/></clipPath>
<rect x="125.00" y="275.50" width="102.50" height="20.80" fill="#fbfbfb" stroke="none" stroke-width="1" />
<g clip-path="url(#cp2)">
<rect x="130.00" y="287.00" width="11.00" height="2.00" fill="#000" stroke="none" stroke-width="1" opacity="0.22" filter="url(#b1)"/>
<rect x="149.80" y="283.00" width="13.00" height="14.00" fill="#000" stroke="none" stroke-width="1" opacity="0.2" filter="url(#b3)"/>
<rect x="149.80" y="286.60" width="13.00" height="2.80" fill="#000" stroke="none" stroke-width="1" opacity="0.8" filter="url(#b1)"/>
<rect x="171.30" y="286.90" width="10.00" height="2.20" fill="#000" stroke="none" stroke-width="1" opacity="0.3" filter="url(#b1)"/>
<rect x="192.30" y="287.00" width="8.00" height="2.00" fill="#000" stroke="none" stroke-width="1" opacity="0.05" filter="url(#b1)"/>
<rect x="211.30" y="286.80" width="10.00" height="2.40" fill="#000" stroke="none" stroke-width="1" opacity="0.25" filter="url(#b1)"/>
</g>
<rect x="125.00" y="275.50" width="102.50" height="20.80" fill="none" stroke="#222" stroke-width="0.9" />
<clipPath id="cp3"><rect x="125" y="300.8" width="102.5" height="19.19999999999999"/></clipPath>
<rect x="125.00" y="300.80" width="102.50" height="19.20" fill="#fbfbfb" stroke="none" stroke-width="1" />
<g clip-path="url(#cp3)">
<rect x="128.25" y="310.00" width="14.50" height="8.00" fill="#000" stroke="none" stroke-width="1" opacity="0.5" filter="url(#b3)"/>
<rect x="128.75" y="311.00" width="13.50" height="3.00" fill="#000" stroke="none" stroke-width="1" opacity="1" filter="url(#b2)"/>
<rect x="149.05" y="310.00" width="14.50" height="8.00" fill="#000" stroke="none" stroke-width="1" opacity="0.5" filter="url(#b3)"/>
<rect x="149.55" y="311.00" width="13.50" height="3.00" fill="#000" stroke="none" stroke-width="1" opacity="1" filter="url(#b2)"/>
<rect x="169.05" y="310.00" width="14.50" height="8.00" fill="#000" stroke="none" stroke-width="1" opacity="0.5" filter="url(#b3)"/>
<rect x="169.55" y="311.00" width="13.50" height="3.00" fill="#000" stroke="none" stroke-width="1" opacity="1" filter="url(#b2)"/>
<rect x="189.05" y="310.00" width="14.50" height="8.00" fill="#000" stroke="none" stroke-width="1" opacity="0.5" filter="url(#b3)"/>
<rect x="189.55" y="311.00" width="13.50" height="3.00" fill="#000" stroke="none" stroke-width="1" opacity="1" filter="url(#b2)"/>
<rect x="208.80" y="309.80" width="15.00" height="8.40" fill="#000" stroke="none" stroke-width="1" opacity="0.5" filter="url(#b3)"/>
<rect x="209.30" y="310.80" width="14.00" height="3.40" fill="#000" stroke="none" stroke-width="1" opacity="1" filter="url(#b2)"/>
</g>
<rect x="125.00" y="300.80" width="102.50" height="19.20" fill="none" stroke="#222" stroke-width="0.9" />
<text x="56.90" y="233.80" font-size="8.5" font-weight="bold" text-anchor="start" fill="#111" textLength="64.80" lengthAdjust="spacingAndGlyphs" stroke="#111" stroke-width="0.22" >Phospho-mTOR</text>
<text x="56.90" y="246.00" font-size="8.5" font-weight="bold" text-anchor="start" fill="#111" textLength="39.80" lengthAdjust="spacingAndGlyphs" stroke="#111" stroke-width="0.22" >(Ser2448)</text>
<text x="89.60" y="263.80" font-size="8.5" font-weight="bold" text-anchor="start" fill="#111" textLength="25.80" lengthAdjust="spacingAndGlyphs" stroke="#111" stroke-width="0.22" >mTOR</text>
<text x="53.10" y="288.30" font-size="8.5" font-weight="bold" text-anchor="start" fill="#111" textLength="66.30" lengthAdjust="spacingAndGlyphs" stroke="#111" stroke-width="0.22" >Phospho-P70 S6</text>
<text x="89.00" y="314.60" font-size="8.5" font-weight="bold" text-anchor="start" fill="#111" textLength="29.80" lengthAdjust="spacingAndGlyphs" stroke="#111" stroke-width="0.22" >GAPDH</text>
<text x="48.50" y="336.50" font-size="8.5" font-weight="bold" text-anchor="start" fill="#111" textLength="30.00" lengthAdjust="spacingAndGlyphs" stroke="#111" stroke-width="0.22" >CD4+ T</text>
<text x="141.90" y="336.30" font-size="8.5" font-weight="bold" text-anchor="middle" fill="#111" stroke="#111" stroke-width="0.22" >+</text>
<text x="161.20" y="336.30" font-size="8.5" font-weight="bold" text-anchor="middle" fill="#111" stroke="#111" stroke-width="0.22" >+</text>
<text x="181.20" y="336.30" font-size="8.5" font-weight="bold" text-anchor="middle" fill="#111" stroke="#111" stroke-width="0.22" >+</text>
<text x="198.80" y="336.30" font-size="8.5" font-weight="bold" text-anchor="middle" fill="#111" stroke="#111" stroke-width="0.22" >+</text>
<text x="218.00" y="336.30" font-size="8.5" font-weight="bold" text-anchor="middle" fill="#111" stroke="#111" stroke-width="0.22" >+</text>
<text x="48.50" y="356.50" font-size="8.5" font-weight="bold" text-anchor="start" fill="#111" textLength="43.00" lengthAdjust="spacingAndGlyphs" stroke="#111" stroke-width="0.22" >CD38+ NK</text>
<text x="141.90" y="356.30" font-size="8.5" font-weight="bold" text-anchor="middle" fill="#111" stroke="#111" stroke-width="0.22" >-</text>
<text x="161.20" y="356.30" font-size="8.5" font-weight="bold" text-anchor="middle" fill="#111" stroke="#111" stroke-width="0.22" >+</text>
<text x="181.20" y="356.30" font-size="8.5" font-weight="bold" text-anchor="middle" fill="#111" stroke="#111" stroke-width="0.22" >+</text>
<text x="198.80" y="356.30" font-size="8.5" font-weight="bold" text-anchor="middle" fill="#111" stroke="#111" stroke-width="0.22" >-</text>
<text x="218.00" y="356.30" font-size="8.5" font-weight="bold" text-anchor="middle" fill="#111" stroke="#111" stroke-width="0.22" >-</text>
<text x="48.50" y="375.70" font-size="8.5" font-weight="bold" text-anchor="start" fill="#111" textLength="67.00" lengthAdjust="spacingAndGlyphs" stroke="#111" stroke-width="0.22" >CD38+ NK-like T</text>
<text x="141.90" y="375.50" font-size="8.5" font-weight="bold" text-anchor="middle" fill="#111" stroke="#111" stroke-width="0.22" >-</text>
<text x="161.20" y="375.50" font-size="8.5" font-weight="bold" text-anchor="middle" fill="#111" stroke="#111" stroke-width="0.22" >-</text>
<text x="181.20" y="375.50" font-size="8.5" font-weight="bold" text-anchor="middle" fill="#111" stroke="#111" stroke-width="0.22" >-</text>
<text x="198.80" y="375.50" font-size="8.5" font-weight="bold" text-anchor="middle" fill="#111" stroke="#111" stroke-width="0.22" >+</text>
<text x="218.00" y="375.50" font-size="8.5" font-weight="bold" text-anchor="middle" fill="#111" stroke="#111" stroke-width="0.22" >+</text>
<text x="48.50" y="395.30" font-size="8.5" font-weight="bold" text-anchor="start" fill="#111" textLength="16.00" lengthAdjust="spacingAndGlyphs" stroke="#111" stroke-width="0.22" >PBS</text>
<text x="141.90" y="395.10" font-size="8.5" font-weight="bold" text-anchor="middle" fill="#111" stroke="#111" stroke-width="0.22" >-</text>
<text x="161.20" y="395.10" font-size="8.5" font-weight="bold" text-anchor="middle" fill="#111" stroke="#111" stroke-width="0.22" >+</text>
<text x="181.20" y="395.10" font-size="8.5" font-weight="bold" text-anchor="middle" fill="#111" stroke="#111" stroke-width="0.22" >-</text>
<text x="198.80" y="395.10" font-size="8.5" font-weight="bold" text-anchor="middle" fill="#111" stroke="#111" stroke-width="0.22" >+</text>
<text x="218.00" y="395.10" font-size="8.5" font-weight="bold" text-anchor="middle" fill="#111" stroke="#111" stroke-width="0.22" >-</text>
<text x="48.50" y="415.30" font-size="8.5" font-weight="bold" text-anchor="start" fill="#111" textLength="77.00" lengthAdjust="spacingAndGlyphs" stroke="#111" stroke-width="0.22" >CD38 mAb treated</text>
<text x="141.90" y="415.10" font-size="8.5" font-weight="bold" text-anchor="middle" fill="#111" stroke="#111" stroke-width="0.22" >-</text>
<text x="161.20" y="415.10" font-size="8.5" font-weight="bold" text-anchor="middle" fill="#111" stroke="#111" stroke-width="0.22" >-</text>
<text x="181.20" y="415.10" font-size="8.5" font-weight="bold" text-anchor="middle" fill="#111" stroke="#111" stroke-width="0.22" >+</text>
<text x="198.80" y="415.10" font-size="8.5" font-weight="bold" text-anchor="middle" fill="#111" stroke="#111" stroke-width="0.22" >-</text>
<text x="218.00" y="415.10" font-size="8.5" font-weight="bold" text-anchor="middle" fill="#111" stroke="#111" stroke-width="0.22" >+</text>
<rect x="321.50" y="229.80" width="10.80" height="4.80" fill="#cfcfcf" stroke="#555" stroke-width="0.8" />
<text x="338.80" y="235.10" font-size="8.2" font-weight="bold" text-anchor="start" fill="#111" stroke="#111" stroke-width="0.22" >CD4+ T</text>
<rect x="321.50" y="241.40" width="10.80" height="4.80" fill="#fff" stroke="#555" stroke-width="0.8" />
<text x="338.80" y="246.70" font-size="8.2" font-weight="bold" text-anchor="start" fill="#111" stroke="#111" stroke-width="0.22" >CD38+ NK and PBS</text>
<rect x="321.50" y="252.90" width="10.80" height="4.80" fill="url(#pdots)" stroke="#555" stroke-width="0.8" />
<text x="338.80" y="258.20" font-size="8.2" font-weight="bold" text-anchor="start" fill="#111" stroke="#111" stroke-width="0.22" >CD38+ NK and CD38mAb</text>
<rect x="321.50" y="264.50" width="10.80" height="4.80" fill="url(#pdense)" stroke="#555" stroke-width="0.8" />
<text x="338.80" y="269.80" font-size="8.2" font-weight="bold" text-anchor="start" fill="#111" stroke="#111" stroke-width="0.22" >CD38+ NK-like T and PBS</text>
<rect x="321.50" y="276.10" width="10.80" height="4.80" fill="url(#pcheck)" stroke="#555" stroke-width="0.8" />
<text x="338.80" y="281.40" font-size="8.2" font-weight="bold" text-anchor="start" fill="#111" stroke="#111" stroke-width="0.22" >CD38+ NK-like T and CD38mAb</text>
<line x1="319.20" y1="306.50" x2="319.20" y2="409.20" stroke="#111" stroke-width="1.4" />
<line x1="318.50" y1="408.50" x2="472.50" y2="408.50" stroke="#111" stroke-width="1.4" />
<line x1="316.20" y1="408.50" x2="319.20" y2="408.50" stroke="#111" stroke-width="1" />
<text x="315.40" y="411.10" font-size="7.2" font-weight="bold" text-anchor="end" fill="#111" stroke="#111" stroke-width="0.22" >0</text>
<line x1="316.20" y1="374.65" x2="319.20" y2="374.65" stroke="#111" stroke-width="1" />
<text x="315.40" y="377.25" font-size="7.2" font-weight="bold" text-anchor="end" fill="#111" stroke="#111" stroke-width="0.22" >1</text>
<line x1="316.20" y1="340.80" x2="319.20" y2="340.80" stroke="#111" stroke-width="1" />
<text x="315.40" y="343.40" font-size="7.2" font-weight="bold" text-anchor="end" fill="#111" stroke="#111" stroke-width="0.22" >2</text>
<line x1="316.20" y1="306.95" x2="319.20" y2="306.95" stroke="#111" stroke-width="1" />
<text x="315.40" y="309.55" font-size="7.2" font-weight="bold" text-anchor="end" fill="#111" stroke="#111" stroke-width="0.22" >3</text>
<text x="306.50" y="357.75" font-size="8.2" font-weight="bold" text-anchor="middle" fill="#111" transform="rotate(-90 306.50 357.75)" stroke="#111" stroke-width="0.22" >Expression level</text>
<rect x="320.60" y="380.40" width="6.20" height="28.10" fill="#cfcfcf" stroke="#444" stroke-width="0.7" />
<line x1="323.70" y1="380.40" x2="323.70" y2="375.33" stroke="#333" stroke-width="0.9" />
<line x1="322.20" y1="375.33" x2="325.20" y2="375.33" stroke="#333" stroke-width="0.9" />
<line x1="323.70" y1="408.50" x2="323.70" y2="411.00" stroke="#111" stroke-width="0.9" />
<rect x="328.55" y="337.08" width="6.20" height="71.42" fill="#fff" stroke="#444" stroke-width="0.7" />
<line x1="331.65" y1="337.08" x2="331.65" y2="323.88" stroke="#333" stroke-width="0.9" />
<line x1="330.15" y1="323.88" x2="333.15" y2="323.88" stroke="#333" stroke-width="0.9" />
<line x1="331.65" y1="408.50" x2="331.65" y2="411.00" stroke="#111" stroke-width="0.9" />
<rect x="336.50" y="364.16" width="6.20" height="44.34" fill="url(#pdots)" stroke="#444" stroke-width="0.7" />
<line x1="339.60" y1="364.16" x2="339.60" y2="359.08" stroke="#333" stroke-width="0.9" />
<line x1="338.10" y1="359.08" x2="341.10" y2="359.08" stroke="#333" stroke-width="0.9" />
<line x1="339.60" y1="408.50" x2="339.60" y2="411.00" stroke="#111" stroke-width="0.9" />
<rect x="344.45" y="405.79" width="6.20" height="2.71" fill="url(#pdense)" stroke="#444" stroke-width="0.7" />
<line x1="347.55" y1="405.79" x2="347.55" y2="405.12" stroke="#333" stroke-width="0.9" />
<line x1="346.05" y1="405.12" x2="349.05" y2="405.12" stroke="#333" stroke-width="0.9" />
<line x1="347.55" y1="408.50" x2="347.55" y2="411.00" stroke="#111" stroke-width="0.9" />
<rect x="352.40" y="374.65" width="6.20" height="33.85" fill="url(#pcheck)" stroke="#444" stroke-width="0.7" />
<line x1="355.50" y1="374.65" x2="355.50" y2="368.56" stroke="#333" stroke-width="0.9" />
<line x1="354.00" y1="368.56" x2="357.00" y2="368.56" stroke="#333" stroke-width="0.9" />
<line x1="355.50" y1="408.50" x2="355.50" y2="411.00" stroke="#111" stroke-width="0.9" />
<rect x="376.40" y="374.65" width="6.20" height="33.85" fill="#cfcfcf" stroke="#444" stroke-width="0.7" />
<line x1="379.50" y1="374.65" x2="379.50" y2="367.20" stroke="#333" stroke-width="0.9" />
<line x1="378.00" y1="367.20" x2="381.00" y2="367.20" stroke="#333" stroke-width="0.9" />
<line x1="379.50" y1="408.50" x2="379.50" y2="411.00" stroke="#111" stroke-width="0.9" />
<rect x="384.35" y="338.09" width="6.20" height="70.41" fill="#fff" stroke="#444" stroke-width="0.7" />
<line x1="387.45" y1="338.09" x2="387.45" y2="323.88" stroke="#333" stroke-width="0.9" />
<line x1="385.95" y1="323.88" x2="388.95" y2="323.88" stroke="#333" stroke-width="0.9" />
<line x1="387.45" y1="408.50" x2="387.45" y2="411.00" stroke="#111" stroke-width="0.9" />
<rect x="392.30" y="382.10" width="6.20" height="26.40" fill="url(#pdots)" stroke="#444" stroke-width="0.7" />
<line x1="395.40" y1="382.10" x2="395.40" y2="379.05" stroke="#333" stroke-width="0.9" />
<line x1="393.90" y1="379.05" x2="396.90" y2="379.05" stroke="#333" stroke-width="0.9" />
<line x1="395.40" y1="408.50" x2="395.40" y2="411.00" stroke="#111" stroke-width="0.9" />
<rect x="400.25" y="395.30" width="6.20" height="13.20" fill="url(#pdense)" stroke="#444" stroke-width="0.7" />
<line x1="403.35" y1="395.30" x2="403.35" y2="392.59" stroke="#333" stroke-width="0.9" />
<line x1="401.85" y1="392.59" x2="404.85" y2="392.59" stroke="#333" stroke-width="0.9" />
<line x1="403.35" y1="408.50" x2="403.35" y2="411.00" stroke="#111" stroke-width="0.9" />
<rect x="408.20" y="354.68" width="6.20" height="53.82" fill="url(#pcheck)" stroke="#444" stroke-width="0.7" />
<line x1="411.30" y1="354.68" x2="411.30" y2="346.89" stroke="#333" stroke-width="0.9" />
<line x1="409.80" y1="346.89" x2="412.80" y2="346.89" stroke="#333" stroke-width="0.9" />
<line x1="411.30" y1="408.50" x2="411.30" y2="411.00" stroke="#111" stroke-width="0.9" />
<rect x="432.00" y="373.63" width="6.20" height="34.87" fill="#cfcfcf" stroke="#444" stroke-width="0.7" />
<line x1="435.10" y1="373.63" x2="435.10" y2="366.19" stroke="#333" stroke-width="0.9" />
<line x1="433.60" y1="366.19" x2="436.60" y2="366.19" stroke="#333" stroke-width="0.9" />
<line x1="435.10" y1="408.50" x2="435.10" y2="411.00" stroke="#111" stroke-width="0.9" />
<rect x="439.95" y="376.34" width="6.20" height="32.16" fill="#fff" stroke="#444" stroke-width="0.7" />
<line x1="443.05" y1="376.34" x2="443.05" y2="373.63" stroke="#333" stroke-width="0.9" />
<line x1="441.55" y1="373.63" x2="444.55" y2="373.63" stroke="#333" stroke-width="0.9" />
<line x1="443.05" y1="408.50" x2="443.05" y2="411.00" stroke="#111" stroke-width="0.9" />
<rect x="447.90" y="378.03" width="6.20" height="30.47" fill="url(#pdots)" stroke="#444" stroke-width="0.7" />
<line x1="451.00" y1="378.03" x2="451.00" y2="373.63" stroke="#333" stroke-width="0.9" />
<line x1="449.50" y1="373.63" x2="452.50" y2="373.63" stroke="#333" stroke-width="0.9" />
<line x1="451.00" y1="408.50" x2="451.00" y2="411.00" stroke="#111" stroke-width="0.9" />
<rect x="455.85" y="386.16" width="6.20" height="22.34" fill="url(#pdense)" stroke="#444" stroke-width="0.7" />
<line x1="458.95" y1="386.16" x2="458.95" y2="383.45" stroke="#333" stroke-width="0.9" />
<line x1="457.45" y1="383.45" x2="460.45" y2="383.45" stroke="#333" stroke-width="0.9" />
<line x1="458.95" y1="408.50" x2="458.95" y2="411.00" stroke="#111" stroke-width="0.9" />
<rect x="463.80" y="368.90" width="6.20" height="39.60" fill="url(#pcheck)" stroke="#444" stroke-width="0.7" />
<line x1="466.90" y1="368.90" x2="466.90" y2="362.46" stroke="#333" stroke-width="0.9" />
<line x1="465.40" y1="362.46" x2="468.40" y2="362.46" stroke="#333" stroke-width="0.9" />
<line x1="466.90" y1="408.50" x2="466.90" y2="411.00" stroke="#111" stroke-width="0.9" />
<line x1="363.50" y1="408.50" x2="363.50" y2="411.00" stroke="#111" stroke-width="0.9" />
<line x1="371.50" y1="408.50" x2="371.50" y2="411.00" stroke="#111" stroke-width="0.9" />
<line x1="419.50" y1="408.50" x2="419.50" y2="411.00" stroke="#111" stroke-width="0.9" />
<line x1="427.50" y1="408.50" x2="427.50" y2="411.00" stroke="#111" stroke-width="0.9" />
<line x1="325.90" y1="299.40" x2="348.50" y2="299.40" stroke="#4a4a4a" stroke-width="0.9" />
<line x1="325.90" y1="297.70" x2="325.90" y2="301.10" stroke="#4a4a4a" stroke-width="0.9" />
<line x1="348.50" y1="297.70" x2="348.50" y2="301.10" stroke="#4a4a4a" stroke-width="0.9" />
<text x="337.10" y="300.90" font-size="10" font-weight="bold" text-anchor="middle" fill="#222" stroke="#222" stroke-width="0.22" >**</text>
<line x1="332.60" y1="311.90" x2="347.70" y2="311.90" stroke="#4a4a4a" stroke-width="0.9" />
<line x1="332.60" y1="310.20" x2="332.60" y2="313.60" stroke="#4a4a4a" stroke-width="0.9" />
<line x1="347.70" y1="310.20" x2="347.70" y2="313.60" stroke="#4a4a4a" stroke-width="0.9" />
<text x="339.20" y="311.90" font-size="10" font-weight="bold" text-anchor="middle" fill="#222" stroke="#222" stroke-width="0.22" >***</text>
<line x1="324.40" y1="324.20" x2="331.20" y2="324.20" stroke="#4a4a4a" stroke-width="0.9" />
<line x1="324.40" y1="322.50" x2="324.40" y2="325.90" stroke="#4a4a4a" stroke-width="0.9" />
<line x1="331.20" y1="322.50" x2="331.20" y2="325.90" stroke="#4a4a4a" stroke-width="0.9" />
<text x="326.90" y="323.50" font-size="10" font-weight="bold" text-anchor="middle" fill="#222" stroke="#222" stroke-width="0.22" >**</text>
<line x1="331.90" y1="324.20" x2="339.60" y2="324.20" stroke="#4a4a4a" stroke-width="0.9" />
<line x1="331.90" y1="322.50" x2="331.90" y2="325.90" stroke="#4a4a4a" stroke-width="0.9" />
<line x1="339.60" y1="322.50" x2="339.60" y2="325.90" stroke="#4a4a4a" stroke-width="0.9" />
<text x="336.40" y="327.00" font-size="10" font-weight="bold" text-anchor="middle" fill="#222" stroke="#222" stroke-width="0.22" >*</text>
<line x1="349.10" y1="363.70" x2="355.90" y2="363.70" stroke="#4a4a4a" stroke-width="0.9" />
<line x1="349.10" y1="362.00" x2="349.10" y2="365.40" stroke="#4a4a4a" stroke-width="0.9" />
<line x1="355.90" y1="362.00" x2="355.90" y2="365.40" stroke="#4a4a4a" stroke-width="0.9" />
<text x="352.90" y="363.30" font-size="10" font-weight="bold" text-anchor="middle" fill="#222" stroke="#222" stroke-width="0.22" >**</text>
<line x1="379.80" y1="301.50" x2="402.40" y2="301.50" stroke="#4a4a4a" stroke-width="0.9" />
<line x1="379.80" y1="299.80" x2="379.80" y2="303.20" stroke="#4a4a4a" stroke-width="0.9" />
<line x1="402.40" y1="299.80" x2="402.40" y2="303.20" stroke="#4a4a4a" stroke-width="0.9" />
<text x="391.90" y="303.40" font-size="10" font-weight="bold" text-anchor="middle" fill="#222" stroke="#222" stroke-width="0.22" >*</text>
<line x1="387.90" y1="311.90" x2="403.10" y2="311.90" stroke="#4a4a4a" stroke-width="0.9" />
<line x1="387.90" y1="310.20" x2="387.90" y2="313.60" stroke="#4a4a4a" stroke-width="0.9" />
<line x1="403.10" y1="310.20" x2="403.10" y2="313.60" stroke="#4a4a4a" stroke-width="0.9" />
<text x="395.70" y="312.50" font-size="10" font-weight="bold" text-anchor="middle" fill="#222" stroke="#222" stroke-width="0.22" >**</text>
<line x1="380.40" y1="323.80" x2="387.20" y2="323.80" stroke="#4a4a4a" stroke-width="0.9" />
<line x1="380.40" y1="322.10" x2="380.40" y2="325.50" stroke="#4a4a4a" stroke-width="0.9" />
<line x1="387.20" y1="322.10" x2="387.20" y2="325.50" stroke="#4a4a4a" stroke-width="0.9" />
<text x="383.60" y="321.10" font-size="10" font-weight="bold" text-anchor="middle" fill="#222" stroke="#222" stroke-width="0.22" >*</text>
<line x1="387.90" y1="323.80" x2="395.30" y2="323.80" stroke="#4a4a4a" stroke-width="0.9" />
<line x1="387.90" y1="322.10" x2="387.90" y2="325.50" stroke="#4a4a4a" stroke-width="0.9" />
<line x1="395.30" y1="322.10" x2="395.30" y2="325.50" stroke="#4a4a4a" stroke-width="0.9" />
<text x="392.10" y="324.50" font-size="10" font-weight="bold" text-anchor="middle" fill="#222" stroke="#222" stroke-width="0.22" >*</text>
<line x1="402.40" y1="344.90" x2="411.10" y2="344.90" stroke="#4a4a4a" stroke-width="0.9" />
<line x1="402.40" y1="343.20" x2="402.40" y2="346.60" stroke="#4a4a4a" stroke-width="0.9" />
<line x1="411.10" y1="343.20" x2="411.10" y2="346.60" stroke="#4a4a4a" stroke-width="0.9" />
<text x="406.70" y="343.10" font-size="10" font-weight="bold" text-anchor="middle" fill="#222" stroke="#222" stroke-width="0.22" >**</text>
<line x1="435.80" y1="336.50" x2="458.50" y2="336.50" stroke="#4a4a4a" stroke-width="0.9" />
<line x1="435.80" y1="334.80" x2="435.80" y2="338.20" stroke="#4a4a4a" stroke-width="0.9" />
<line x1="458.50" y1="334.80" x2="458.50" y2="338.20" stroke="#4a4a4a" stroke-width="0.9" />
<text x="448.10" y="333.30" font-size="7.4" font-weight="normal" text-anchor="middle" fill="#444" >ns</text>
<line x1="442.30" y1="346.20" x2="457.80" y2="346.20" stroke="#4a4a4a" stroke-width="0.9" />
<line x1="442.30" y1="344.50" x2="442.30" y2="347.90" stroke="#4a4a4a" stroke-width="0.9" />
<line x1="457.80" y1="344.50" x2="457.80" y2="347.90" stroke="#4a4a4a" stroke-width="0.9" />
<text x="449.70" y="343.30" font-size="7.4" font-weight="normal" text-anchor="middle" fill="#444" >ns</text>
<line x1="434.70" y1="357.30" x2="441.80" y2="357.30" stroke="#4a4a4a" stroke-width="0.9" />
<line x1="434.70" y1="355.60" x2="434.70" y2="359.00" stroke="#4a4a4a" stroke-width="0.9" />
<line x1="441.80" y1="355.60" x2="441.80" y2="359.00" stroke="#4a4a4a" stroke-width="0.9" />
<text x="437.40" y="352.60" font-size="7.4" font-weight="normal" text-anchor="middle" fill="#444" >ns</text>
<line x1="442.40" y1="357.30" x2="450.40" y2="357.30" stroke="#4a4a4a" stroke-width="0.9" />
<line x1="442.40" y1="355.60" x2="442.40" y2="359.00" stroke="#4a4a4a" stroke-width="0.9" />
<line x1="450.40" y1="355.60" x2="450.40" y2="359.00" stroke="#4a4a4a" stroke-width="0.9" />
<text x="446.20" y="354.00" font-size="7.4" font-weight="normal" text-anchor="middle" fill="#444" >ns</text>
<line x1="458.50" y1="357.30" x2="466.50" y2="357.30" stroke="#4a4a4a" stroke-width="0.9" />
<line x1="458.50" y1="355.60" x2="458.50" y2="359.00" stroke="#4a4a4a" stroke-width="0.9" />
<line x1="466.50" y1="355.60" x2="466.50" y2="359.00" stroke="#4a4a4a" stroke-width="0.9" />
<text x="461.90" y="353.50" font-size="7.4" font-weight="normal" text-anchor="middle" fill="#444" >ns</text>
<text x="342.70" y="423.40" font-size="8.3" font-weight="bold" text-anchor="middle" fill="#111" stroke="#111" stroke-width="0.22" >pho-P70S60</text>
<text x="395.80" y="423.40" font-size="8.3" font-weight="bold" text-anchor="middle" fill="#111" stroke="#111" stroke-width="0.22" >pho-mTOR</text>
<text x="451.50" y="423.40" font-size="8.3" font-weight="bold" text-anchor="middle" fill="#111" stroke="#111" stroke-width="0.22" >mTOR</text>
<rect x="77.30" y="454.10" width="10.60" height="4.80" fill="#cfcfcf" stroke="#555" stroke-width="0.8" />
<text x="94.10" y="459.40" font-size="8.2" font-weight="bold" text-anchor="start" fill="#111" stroke="#111" stroke-width="0.22" >CD38+ NK</text>
<rect x="77.30" y="464.10" width="10.60" height="4.80" fill="#fff" stroke="#555" stroke-width="0.8" />
<text x="94.10" y="469.40" font-size="8.2" font-weight="bold" text-anchor="start" fill="#111" stroke="#111" stroke-width="0.22" >CD38+ NK-like T</text>
<rect x="77.30" y="473.90" width="10.60" height="4.80" fill="url(#pdots)" stroke="#555" stroke-width="0.8" />
<text x="94.10" y="479.20" font-size="8.2" font-weight="bold" text-anchor="start" fill="#111" stroke="#111" stroke-width="0.22" >CD38+ NK and PBS</text>
<rect x="77.30" y="483.80" width="10.60" height="4.80" fill="url(#pdense)" stroke="#555" stroke-width="0.8" />
<text x="94.10" y="489.10" font-size="8.2" font-weight="bold" text-anchor="start" fill="#111" stroke="#111" stroke-width="0.22" >CD38+ NK and CD38 mAb</text>
<rect x="77.30" y="493.60" width="10.60" height="4.80" fill="url(#pcheck)" stroke="#555" stroke-width="0.8" />
<text x="94.10" y="498.90" font-size="8.2" font-weight="bold" text-anchor="start" fill="#111" stroke="#111" stroke-width="0.22" >CD38+ NK-like T and PBS</text>
<rect x="77.30" y="503.90" width="10.60" height="4.80" fill="url(#phoriz)" stroke="#555" stroke-width="0.8" />
<text x="94.10" y="509.20" font-size="8.2" font-weight="bold" text-anchor="start" fill="#111" stroke="#111" stroke-width="0.22" >CD38+ NK-like T and CD38 mAb</text>
<line x1="75.10" y1="517.20" x2="75.10" y2="619.90" stroke="#111" stroke-width="1.4" />
<line x1="74.40" y1="619.20" x2="228.50" y2="619.20" stroke="#111" stroke-width="1.4" />
<line x1="72.10" y1="619.20" x2="75.10" y2="619.20" stroke="#111" stroke-width="1" />
<text x="71.30" y="621.80" font-size="7.2" font-weight="bold" text-anchor="end" fill="#111" stroke="#111" stroke-width="0.22" >0</text>
<line x1="72.10" y1="598.90" x2="75.10" y2="598.90" stroke="#111" stroke-width="1" />
<text x="71.30" y="601.50" font-size="7.2" font-weight="bold" text-anchor="end" fill="#111" stroke="#111" stroke-width="0.22" >2</text>
<line x1="72.10" y1="578.60" x2="75.10" y2="578.60" stroke="#111" stroke-width="1" />
<text x="71.30" y="581.20" font-size="7.2" font-weight="bold" text-anchor="end" fill="#111" stroke="#111" stroke-width="0.22" >4</text>
<line x1="72.10" y1="558.30" x2="75.10" y2="558.30" stroke="#111" stroke-width="1" />
<text x="71.30" y="560.90" font-size="7.2" font-weight="bold" text-anchor="end" fill="#111" stroke="#111" stroke-width="0.22" >6</text>
<line x1="72.10" y1="538.00" x2="75.10" y2="538.00" stroke="#111" stroke-width="1" />
<text x="71.30" y="540.60" font-size="7.2" font-weight="bold" text-anchor="end" fill="#111" stroke="#111" stroke-width="0.22" >8</text>
<line x1="72.10" y1="517.70" x2="75.10" y2="517.70" stroke="#111" stroke-width="1" />
<text x="71.30" y="520.30" font-size="7.2" font-weight="bold" text-anchor="end" fill="#111" stroke="#111" stroke-width="0.22" >10</text>
<text x="58.40" y="568.45" font-size="8.2" font-weight="bold" text-anchor="middle" fill="#111" transform="rotate(-90 58.40 568.45)" stroke="#111" stroke-width="0.22" >Relative level of mRNA</text>
<rect x="76.30" y="609.25" width="5.60" height="9.95" fill="#cfcfcf" stroke="#444" stroke-width="0.7" />
<line x1="79.10" y1="619.20" x2="79.10" y2="621.70" stroke="#111" stroke-width="0.9" />
<rect x="83.92" y="554.24" width="5.60" height="64.96" fill="#fff" stroke="#444" stroke-width="0.7" />
<line x1="86.72" y1="554.24" x2="86.72" y2="544.09" stroke="#333" stroke-width="0.9" />
<line x1="85.42" y1="544.09" x2="88.02" y2="544.09" stroke="#333" stroke-width="0.9" />
<line x1="86.72" y1="619.20" x2="86.72" y2="621.70" stroke="#111" stroke-width="0.9" />
<rect x="91.54" y="608.14" width="5.60" height="11.06" fill="url(#pdots)" stroke="#444" stroke-width="0.7" />
<line x1="94.34" y1="608.14" x2="94.34" y2="607.53" stroke="#333" stroke-width="0.9" />
<line x1="93.04" y1="607.53" x2="95.64" y2="607.53" stroke="#333" stroke-width="0.9" />
<line x1="94.34" y1="619.20" x2="94.34" y2="621.70" stroke="#111" stroke-width="0.9" />
<rect x="99.16" y="609.05" width="5.60" height="10.15" fill="url(#pdense)" stroke="#444" stroke-width="0.7" />
<line x1="101.96" y1="609.05" x2="101.96" y2="608.24" stroke="#333" stroke-width="0.9" />
<line x1="100.66" y1="608.24" x2="103.26" y2="608.24" stroke="#333" stroke-width="0.9" />
<line x1="101.96" y1="619.20" x2="101.96" y2="621.70" stroke="#111" stroke-width="0.9" />
<rect x="106.78" y="544.29" width="5.60" height="74.91" fill="url(#pcheck)" stroke="#444" stroke-width="0.7" />
<line x1="109.58" y1="544.29" x2="109.58" y2="535.97" stroke="#333" stroke-width="0.9" />
<line x1="108.28" y1="535.97" x2="110.88" y2="535.97" stroke="#333" stroke-width="0.9" />
<line x1="109.58" y1="619.20" x2="109.58" y2="621.70" stroke="#111" stroke-width="0.9" />
<rect x="114.40" y="576.06" width="5.60" height="43.14" fill="url(#phoriz)" stroke="#444" stroke-width="0.7" />
<line x1="117.20" y1="576.06" x2="117.20" y2="566.42" stroke="#333" stroke-width="0.9" />
<line x1="115.90" y1="566.42" x2="118.50" y2="566.42" stroke="#333" stroke-width="0.9" />
<line x1="117.20" y1="619.20" x2="117.20" y2="621.70" stroke="#111" stroke-width="0.9" />
<rect x="129.80" y="609.25" width="5.60" height="9.95" fill="#cfcfcf" stroke="#444" stroke-width="0.7" />
<line x1="132.60" y1="619.20" x2="132.60" y2="621.70" stroke="#111" stroke-width="0.9" />
<rect x="137.42" y="607.02" width="5.60" height="12.18" fill="#fff" stroke="#444" stroke-width="0.7" />
<line x1="140.22" y1="607.02" x2="140.22" y2="604.48" stroke="#333" stroke-width="0.9" />
<line x1="138.92" y1="604.48" x2="141.52" y2="604.48" stroke="#333" stroke-width="0.9" />
<line x1="140.22" y1="619.20" x2="140.22" y2="621.70" stroke="#111" stroke-width="0.9" />
<rect x="145.04" y="608.85" width="5.60" height="10.35" fill="url(#pdots)" stroke="#444" stroke-width="0.7" />
<line x1="147.84" y1="608.85" x2="147.84" y2="608.04" stroke="#333" stroke-width="0.9" />
<line x1="146.54" y1="608.04" x2="149.14" y2="608.04" stroke="#333" stroke-width="0.9" />
<line x1="147.84" y1="619.20" x2="147.84" y2="621.70" stroke="#111" stroke-width="0.9" />
<rect x="152.66" y="607.73" width="5.60" height="11.47" fill="url(#pdense)" stroke="#444" stroke-width="0.7" />
<line x1="155.46" y1="607.73" x2="155.46" y2="607.02" stroke="#333" stroke-width="0.9" />
<line x1="154.16" y1="607.02" x2="156.76" y2="607.02" stroke="#333" stroke-width="0.9" />
<line x1="155.46" y1="619.20" x2="155.46" y2="621.70" stroke="#111" stroke-width="0.9" />
<rect x="160.28" y="607.22" width="5.60" height="11.98" fill="url(#pcheck)" stroke="#444" stroke-width="0.7" />
<line x1="163.08" y1="607.22" x2="163.08" y2="606.51" stroke="#333" stroke-width="0.9" />
<line x1="161.78" y1="606.51" x2="164.38" y2="606.51" stroke="#333" stroke-width="0.9" />
<line x1="163.08" y1="619.20" x2="163.08" y2="621.70" stroke="#111" stroke-width="0.9" />
<rect x="167.90" y="610.47" width="5.60" height="8.73" fill="url(#phoriz)" stroke="#444" stroke-width="0.7" />
<line x1="170.70" y1="610.47" x2="170.70" y2="608.24" stroke="#333" stroke-width="0.9" />
<line x1="169.40" y1="608.24" x2="172.00" y2="608.24" stroke="#333" stroke-width="0.9" />
<line x1="170.70" y1="619.20" x2="170.70" y2="621.70" stroke="#111" stroke-width="0.9" />
<rect x="183.40" y="609.05" width="5.60" height="10.15" fill="#cfcfcf" stroke="#444" stroke-width="0.7" />
<line x1="186.20" y1="619.20" x2="186.20" y2="621.70" stroke="#111" stroke-width="0.9" />
<rect x="191.02" y="604.99" width="5.60" height="14.21" fill="#fff" stroke="#444" stroke-width="0.7" />
<line x1="193.82" y1="604.99" x2="193.82" y2="602.45" stroke="#333" stroke-width="0.9" />
<line x1="192.52" y1="602.45" x2="195.12" y2="602.45" stroke="#333" stroke-width="0.9" />
<line x1="193.82" y1="619.20" x2="193.82" y2="621.70" stroke="#111" stroke-width="0.9" />
<rect x="198.64" y="603.57" width="5.60" height="15.63" fill="url(#pdots)" stroke="#444" stroke-width="0.7" />
<line x1="201.44" y1="603.57" x2="201.44" y2="601.44" stroke="#333" stroke-width="0.9" />
<line x1="200.14" y1="601.44" x2="202.74" y2="601.44" stroke="#333" stroke-width="0.9" />
<line x1="201.44" y1="619.20" x2="201.44" y2="621.70" stroke="#111" stroke-width="0.9" />
<rect x="206.26" y="569.67" width="5.60" height="49.53" fill="url(#pdense)" stroke="#444" stroke-width="0.7" />
<line x1="209.06" y1="569.67" x2="209.06" y2="559.32" stroke="#333" stroke-width="0.9" />
<line x1="207.76" y1="559.32" x2="210.36" y2="559.32" stroke="#333" stroke-width="0.9" />
<line x1="209.06" y1="619.20" x2="209.06" y2="621.70" stroke="#111" stroke-width="0.9" />
<rect x="213.88" y="605.40" width="5.60" height="13.80" fill="url(#pcheck)" stroke="#444" stroke-width="0.7" />
<line x1="216.68" y1="605.40" x2="216.68" y2="604.48" stroke="#333" stroke-width="0.9" />
<line x1="215.38" y1="604.48" x2="217.98" y2="604.48" stroke="#333" stroke-width="0.9" />
<line x1="216.68" y1="619.20" x2="216.68" y2="621.70" stroke="#111" stroke-width="0.9" />
<rect x="221.50" y="606.00" width="5.60" height="13.20" fill="url(#phoriz)" stroke="#444" stroke-width="0.7" />
<line x1="224.30" y1="606.00" x2="224.30" y2="604.99" stroke="#333" stroke-width="0.9" />
<line x1="223.00" y1="604.99" x2="225.60" y2="604.99" stroke="#333" stroke-width="0.9" />
<line x1="224.30" y1="619.20" x2="224.30" y2="621.70" stroke="#111" stroke-width="0.9" />
<line x1="124.80" y1="619.20" x2="124.80" y2="621.70" stroke="#111" stroke-width="0.9" />
<line x1="178.20" y1="619.20" x2="178.20" y2="621.70" stroke="#111" stroke-width="0.9" />
<line x1="79.70" y1="538.90" x2="87.30" y2="538.90" stroke="#4a4a4a" stroke-width="0.9" />
<line x1="79.70" y1="537.20" x2="79.70" y2="540.60" stroke="#4a4a4a" stroke-width="0.9" />
<line x1="87.30" y1="537.20" x2="87.30" y2="540.60" stroke="#4a4a4a" stroke-width="0.9" />
<text x="84.50" y="536.80" font-size="10" font-weight="bold" text-anchor="middle" fill="#222" stroke="#222" stroke-width="0.22" >***</text>
<line x1="93.50" y1="598.50" x2="101.20" y2="598.50" stroke="#4a4a4a" stroke-width="0.9" />
<line x1="93.50" y1="596.80" x2="93.50" y2="600.20" stroke="#4a4a4a" stroke-width="0.9" />
<line x1="101.20" y1="596.80" x2="101.20" y2="600.20" stroke="#4a4a4a" stroke-width="0.9" />
<text x="97.60" y="594.58" font-size="8.8" font-weight="normal" text-anchor="middle" fill="#444" >ns</text>
<line x1="110.00" y1="532.70" x2="117.80" y2="532.70" stroke="#4a4a4a" stroke-width="0.9" />
<line x1="110.00" y1="531.00" x2="110.00" y2="534.40" stroke="#4a4a4a" stroke-width="0.9" />
<line x1="117.80" y1="531.00" x2="117.80" y2="534.40" stroke="#4a4a4a" stroke-width="0.9" />
<text x="113.80" y="532.80" font-size="10" font-weight="bold" text-anchor="middle" fill="#222" stroke="#222" stroke-width="0.22" >**</text>
<line x1="200.30" y1="554.60" x2="209.50" y2="554.60" stroke="#4a4a4a" stroke-width="0.9" />
<line x1="200.30" y1="552.90" x2="200.30" y2="556.30" stroke="#4a4a4a" stroke-width="0.9" />
<line x1="209.50" y1="552.90" x2="209.50" y2="556.30" stroke="#4a4a4a" stroke-width="0.9" />
<text x="204.90" y="554.20" font-size="10" font-weight="bold" text-anchor="middle" fill="#222" stroke="#222" stroke-width="0.22" >**</text>
<text x="96.50" y="632.20" font-size="8.2" font-weight="bold" text-anchor="middle" fill="#111" stroke="#111" stroke-width="0.22" >CD3</text>
<text x="145.30" y="632.20" font-size="8.2" font-weight="bold" text-anchor="middle" fill="#111" stroke="#111" stroke-width="0.22" >CD28</text>
<text x="199.60" y="632.20" font-size="8.2" font-weight="bold" text-anchor="middle" fill="#111" stroke="#111" stroke-width="0.22" >TGF-β</text>
<rect x="322.60" y="461.40" width="10.60" height="4.80" fill="#cfcfcf" stroke="#555" stroke-width="0.8" />
<text x="339.60" y="466.70" font-size="8.3" font-weight="bold" text-anchor="start" fill="#111" stroke="#111" stroke-width="0.22" >CD38+ NK</text>
<rect x="322.60" y="471.80" width="10.60" height="4.80" fill="#fff" stroke="#555" stroke-width="0.8" />
<text x="339.60" y="477.10" font-size="8.3" font-weight="bold" text-anchor="start" fill="#111" stroke="#111" stroke-width="0.22" >CD38+ NK-like T</text>
<rect x="322.60" y="481.40" width="10.60" height="4.80" fill="url(#pdots)" stroke="#555" stroke-width="0.8" />
<text x="339.60" y="486.70" font-size="8.3" font-weight="bold" text-anchor="start" fill="#111" stroke="#111" stroke-width="0.22" >CD38+ NK and PBS</text>
<rect x="322.60" y="490.00" width="10.60" height="4.80" fill="url(#pdense)" stroke="#555" stroke-width="0.8" />
<text x="339.60" y="495.30" font-size="8.3" font-weight="bold" text-anchor="start" fill="#111" stroke="#111" stroke-width="0.22" >CD38+ NK and CD38 mAb</text>
<rect x="322.60" y="498.80" width="10.60" height="4.80" fill="url(#pcheck)" stroke="#555" stroke-width="0.8" />
<text x="339.60" y="504.10" font-size="8.3" font-weight="bold" text-anchor="start" fill="#111" stroke="#111" stroke-width="0.22" >CD38+ NK-like T and PBS</text>
<rect x="322.60" y="508.00" width="10.60" height="4.80" fill="url(#phoriz)" stroke="#555" stroke-width="0.8" />
<text x="339.60" y="513.30" font-size="8.3" font-weight="bold" text-anchor="start" fill="#111" stroke="#111" stroke-width="0.22" >CD38+ NK-like T and CD38 mAb</text>
<line x1="319.20" y1="520.20" x2="319.20" y2="622.20" stroke="#111" stroke-width="1.4" />
<line x1="318.50" y1="621.50" x2="473.00" y2="621.50" stroke="#111" stroke-width="1.4" />
<line x1="316.20" y1="621.50" x2="319.20" y2="621.50" stroke="#111" stroke-width="1" />
<text x="315.40" y="624.10" font-size="7.2" font-weight="bold" text-anchor="end" fill="#111" stroke="#111" stroke-width="0.22" >0</text>
<line x1="316.20" y1="587.90" x2="319.20" y2="587.90" stroke="#111" stroke-width="1" />
<text x="315.40" y="590.50" font-size="7.2" font-weight="bold" text-anchor="end" fill="#111" stroke="#111" stroke-width="0.22" >20</text>
<line x1="316.20" y1="554.30" x2="319.20" y2="554.30" stroke="#111" stroke-width="1" />
<text x="315.40" y="556.90" font-size="7.2" font-weight="bold" text-anchor="end" fill="#111" stroke="#111" stroke-width="0.22" >40</text>
<line x1="316.20" y1="520.70" x2="319.20" y2="520.70" stroke="#111" stroke-width="1" />
<text x="315.40" y="523.30" font-size="7.2" font-weight="bold" text-anchor="end" fill="#111" stroke="#111" stroke-width="0.22" >60</text>
<text x="303.40" y="571.60" font-size="8.25" font-weight="bold" text-anchor="middle" fill="#111" transform="rotate(-90 303.40 571.60)" stroke="#111" stroke-width="0.22" >TGF-β protein level (pg/ml)</text>
<rect x="323.80" y="595.63" width="17.30" height="25.87" fill="#cfcfcf" stroke="#444" stroke-width="0.8" />
<line x1="332.45" y1="595.63" x2="332.45" y2="592.10" stroke="#333" stroke-width="0.9" />
<line x1="328.45" y1="592.10" x2="336.45" y2="592.10" stroke="#333" stroke-width="0.9" />
<line x1="332.45" y1="595.63" x2="332.45" y2="599.16" stroke="#333" stroke-width="0.9" />
<line x1="328.45" y1="599.16" x2="336.45" y2="599.16" stroke="#333" stroke-width="0.9" />
<line x1="332.45" y1="621.50" x2="332.45" y2="624.00" stroke="#111" stroke-width="0.9" />
<rect x="349.35" y="575.80" width="17.30" height="45.70" fill="#fff" stroke="#444" stroke-width="0.8" />
<line x1="358.00" y1="575.80" x2="358.00" y2="568.58" stroke="#333" stroke-width="0.9" />
<line x1="354.00" y1="568.58" x2="362.00" y2="568.58" stroke="#333" stroke-width="0.9" />
<line x1="358.00" y1="575.80" x2="358.00" y2="583.36" stroke="#333" stroke-width="0.9" />
<line x1="354.00" y1="583.36" x2="362.00" y2="583.36" stroke="#333" stroke-width="0.9" />
<line x1="358.00" y1="621.50" x2="358.00" y2="624.00" stroke="#111" stroke-width="0.9" />
<rect x="374.90" y="591.60" width="17.30" height="29.90" fill="url(#pdots)" stroke="#444" stroke-width="0.8" />
<line x1="383.55" y1="591.60" x2="383.55" y2="587.40" stroke="#333" stroke-width="0.9" />
<line x1="379.55" y1="587.40" x2="387.55" y2="587.40" stroke="#333" stroke-width="0.9" />
<line x1="383.55" y1="591.60" x2="383.55" y2="595.63" stroke="#333" stroke-width="0.9" />
<line x1="379.55" y1="595.63" x2="387.55" y2="595.63" stroke="#333" stroke-width="0.9" />
<line x1="383.55" y1="621.50" x2="383.55" y2="624.00" stroke="#111" stroke-width="0.9" />
<rect x="400.45" y="548.42" width="17.30" height="73.08" fill="url(#pdense)" stroke="#444" stroke-width="0.8" />
<line x1="409.10" y1="548.42" x2="409.10" y2="538.34" stroke="#333" stroke-width="0.9" />
<line x1="405.10" y1="538.34" x2="413.10" y2="538.34" stroke="#333" stroke-width="0.9" />
<line x1="409.10" y1="548.42" x2="409.10" y2="558.50" stroke="#333" stroke-width="0.9" />
<line x1="405.10" y1="558.50" x2="413.10" y2="558.50" stroke="#333" stroke-width="0.9" />
<line x1="409.10" y1="621.50" x2="409.10" y2="624.00" stroke="#111" stroke-width="0.9" />
<rect x="426.00" y="575.47" width="17.30" height="46.03" fill="url(#pcheckg)" stroke="#444" stroke-width="0.8" />
<line x1="434.65" y1="575.47" x2="434.65" y2="565.56" stroke="#333" stroke-width="0.9" />
<line x1="430.65" y1="565.56" x2="438.65" y2="565.56" stroke="#333" stroke-width="0.9" />
<line x1="434.65" y1="621.50" x2="434.65" y2="624.00" stroke="#111" stroke-width="0.9" />
<rect x="451.55" y="581.18" width="17.30" height="40.32" fill="url(#phoriz)" stroke="#444" stroke-width="0.8" />
<line x1="460.20" y1="581.18" x2="460.20" y2="573.62" stroke="#333" stroke-width="0.9" />
<line x1="456.20" y1="573.62" x2="464.20" y2="573.62" stroke="#333" stroke-width="0.9" />
<line x1="460.20" y1="621.50" x2="460.20" y2="624.00" stroke="#111" stroke-width="0.9" />
<line x1="330.00" y1="562.00" x2="357.20" y2="562.00" stroke="#4a4a4a" stroke-width="0.9" />
<line x1="330.00" y1="560.30" x2="330.00" y2="563.70" stroke="#4a4a4a" stroke-width="0.9" />
<line x1="357.20" y1="560.30" x2="357.20" y2="563.70" stroke="#4a4a4a" stroke-width="0.9" />
<text x="344.50" y="560.40" font-size="10" font-weight="bold" text-anchor="middle" fill="#222" stroke="#222" stroke-width="0.22" >*</text>
<line x1="384.20" y1="535.00" x2="411.20" y2="535.00" stroke="#4a4a4a" stroke-width="0.9" />
<line x1="384.20" y1="533.30" x2="384.20" y2="536.70" stroke="#4a4a4a" stroke-width="0.9" />
<line x1="411.20" y1="533.30" x2="411.20" y2="536.70" stroke="#4a4a4a" stroke-width="0.9" />
<text x="395.00" y="535.80" font-size="10" font-weight="bold" text-anchor="middle" fill="#222" stroke="#222" stroke-width="0.22" >**</text>
<line x1="433.80" y1="561.50" x2="460.80" y2="561.50" stroke="#4a4a4a" stroke-width="0.9" />
<line x1="433.80" y1="559.80" x2="433.80" y2="563.20" stroke="#4a4a4a" stroke-width="0.9" />
<line x1="460.80" y1="559.80" x2="460.80" y2="563.20" stroke="#4a4a4a" stroke-width="0.9" />
<text x="447.80" y="556.91" font-size="7.8" font-weight="normal" text-anchor="middle" fill="#444" >ns</text>
</svg>
</body></html>
